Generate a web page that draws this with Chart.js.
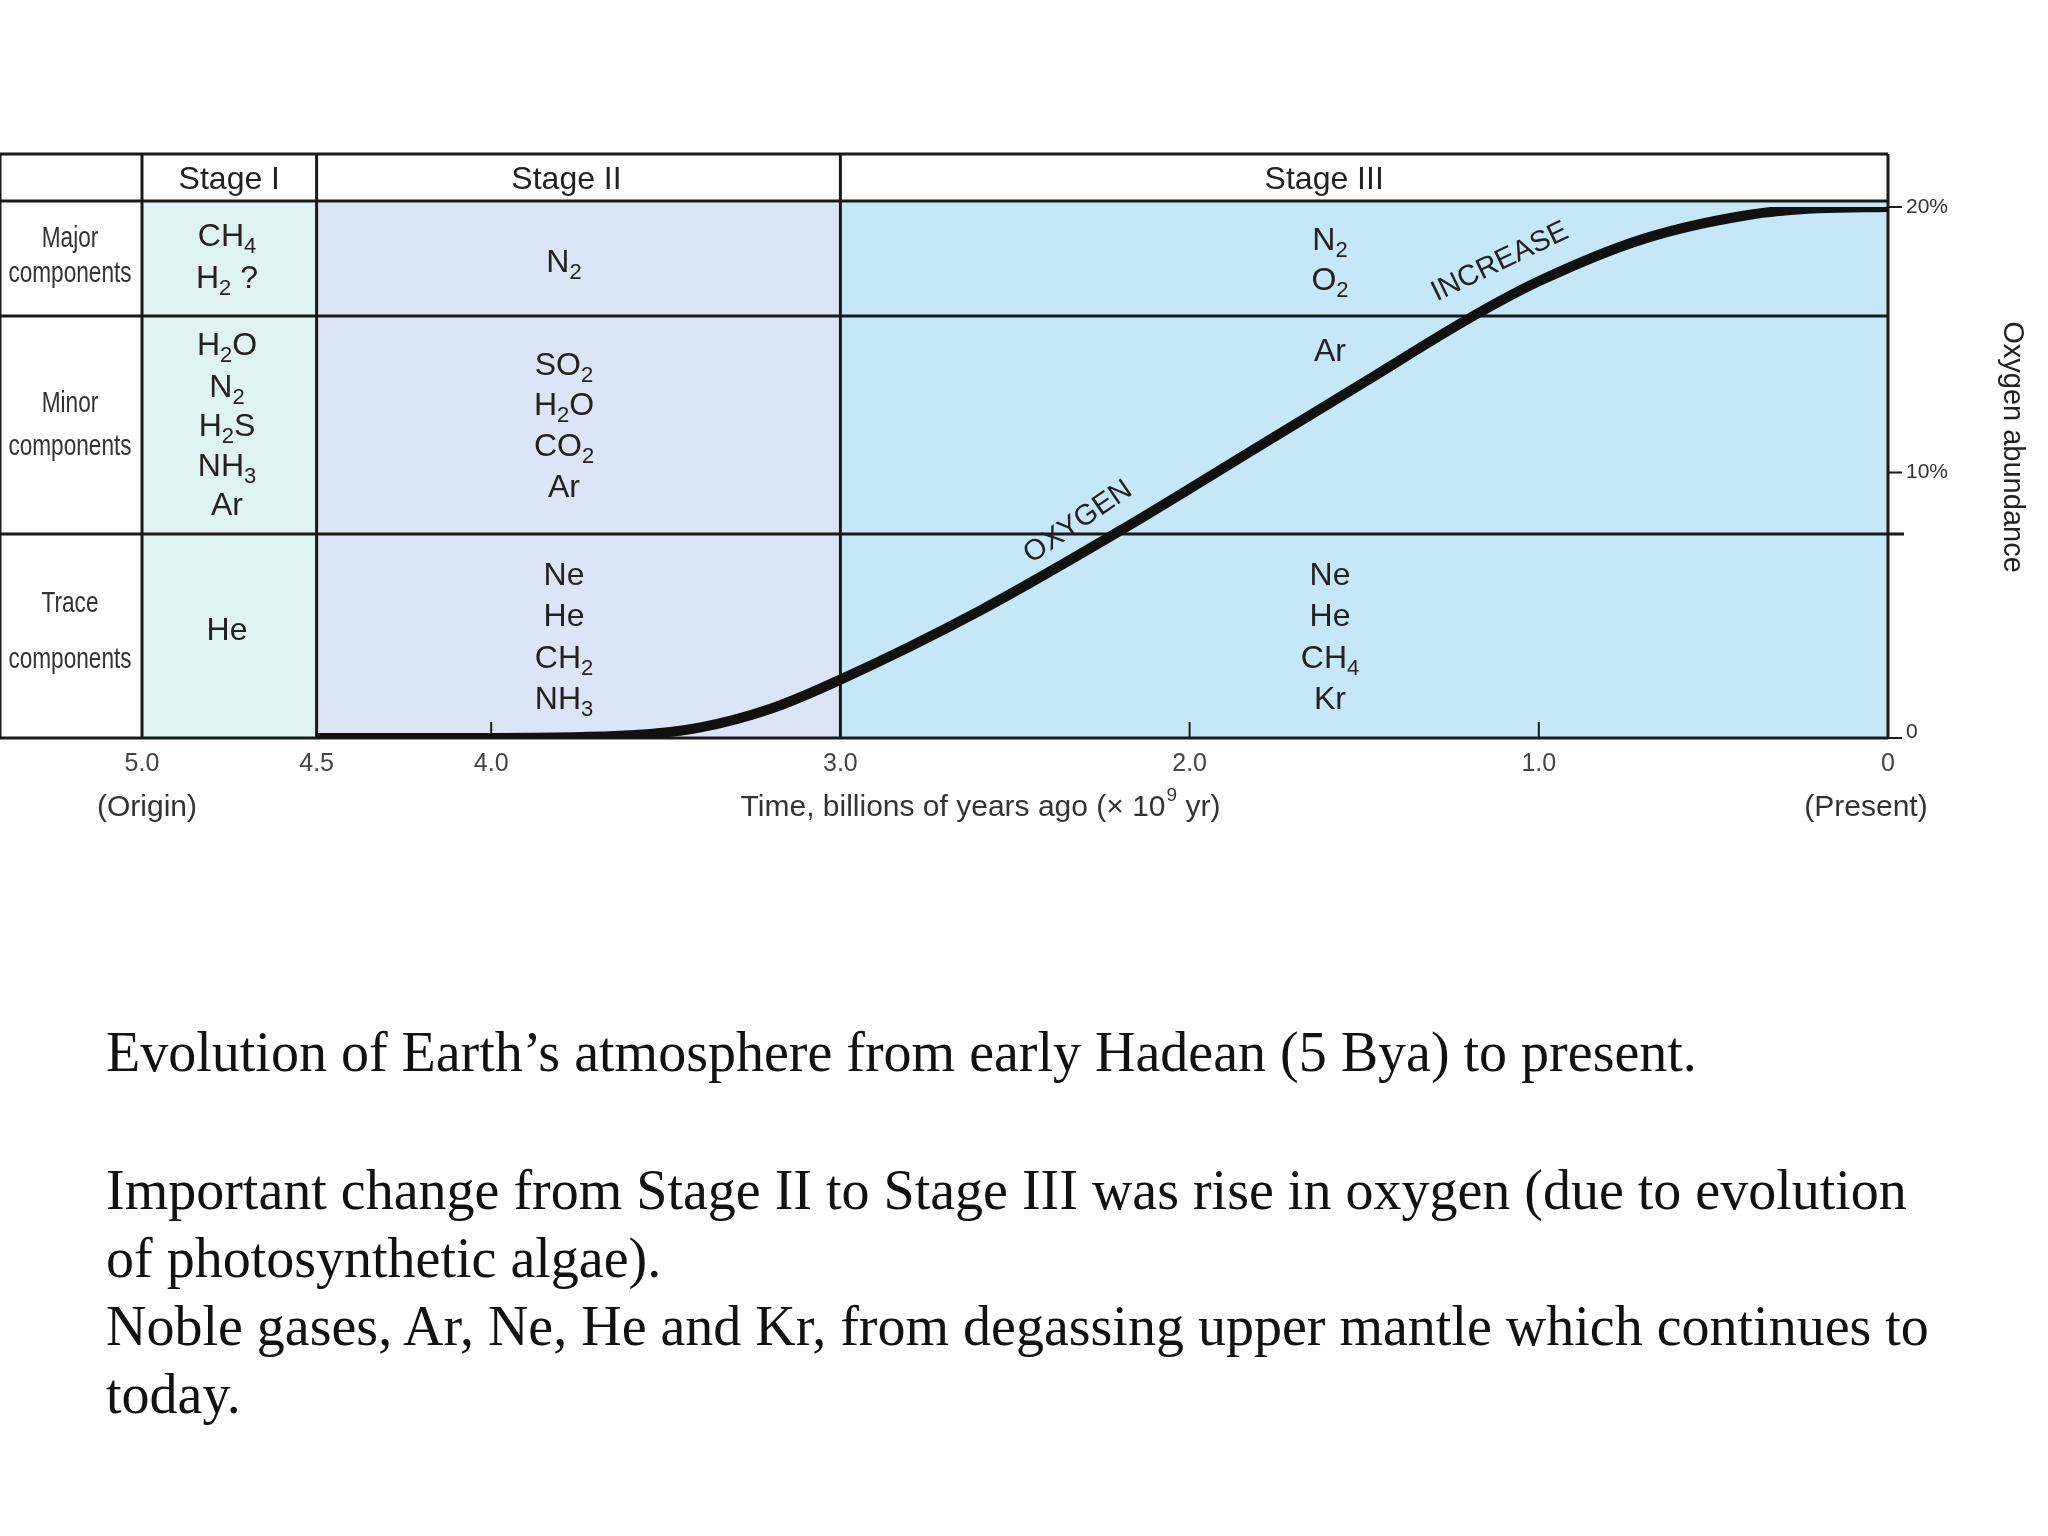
<!DOCTYPE html>
<html><head><meta charset="utf-8">
<script src="https://cdn.jsdelivr.net/npm/chart.js@4.4.1/dist/chart.umd.min.js"></script>
<style>
html,body{margin:0;padding:0;background:#fff;width:2048px;height:1536px;overflow:hidden}
#c{position:absolute;left:0;top:0}
.cap{position:absolute;left:106px;font-family:"Liberation Serif",serif;font-size:56px;color:#111;line-height:68px;margin:0}
</style></head><body>
<canvas id="c" width="2048" height="1536"></canvas>
<p class="cap" style="top:1018px">Evolution of Earth’s atmosphere from early Hadean (5 Bya) to present.</p>
<p class="cap" style="top:1156px;width:1940px">Important change from Stage II to Stage III was rise in oxygen (due to evolution<br>of photosynthetic algae).<br>Noble gases, Ar, Ne, He and Kr, from degassing upper mantle which continues to<br>today.</p>
<script>
const timeGya = [4.5,4.0,3.6,3.4,3.2,3.0,2.6,2.2,1.8,1.5,1.2,1.0,0.7,0.4,0.2,0];
const oxygenPct = [0,0,0.1,0.4,1.1,2.2,4.8,7.8,11,13.4,15.8,17.2,18.8,19.7,19.95,20];
const xTicks = [5.0,4.5,4.0,3.0,2.0,1.0,0];
const xTickLabels = ["5.0","4.5","4.0","3.0","2.0","1.0","0"];
const yTicks = [20,10,0];
const yTickLabels = ["20%","10%","0"];
const stages = [{name:"Stage I",from:5.0,to:4.5,color:"#dff2f4"},{name:"Stage II",from:4.5,to:3.0,color:"#dbe5f6"},{name:"Stage III",from:3.0,to:0,color:"#c6e7f8"}];
const rowLabels = [["Major","components"],["Minor","components"],["Trace","components"]];
const cells = [
 [["CH_4","H_2 ?"],["N_2"],["N_2","O_2"]],
 [["H_2O","N_2","H_2S","NH_3","Ar"],["SO_2","H_2O","CO_2","Ar"],["Ar"]],
 [["He"],["Ne","He","CH_2","NH_3"],["Ne","He","CH_4","Kr"]]
];
const T=154,H1=201,R1=316,R2=534;
function sub(ctx,s,x,y,size){
  const parts=[];let i=0;
  while(i<s.length){ if(s[i]==='_'){parts.push([s[i+1],true]);i+=2;} else {parts.push([s[i],false]);i++;} }
  const f=(b)=>(b?Math.round(size*0.68):size)+'px "Liberation Sans",Arial,sans-serif';
  let w=0;parts.forEach(p=>{ctx.font=f(p[1]);w+=ctx.measureText(p[0]).width;});
  let cx=x-w/2;ctx.textAlign='left';ctx.textBaseline='middle';
  parts.forEach(p=>{ctx.font=f(p[1]);ctx.fillText(p[0],cx,p[1]?y+size*0.3:y);cx+=ctx.measureText(p[0]).width;});
}
const deco={id:'deco',
 beforeDatasetsDraw(ch){
  const c=ch.ctx,xs=ch.scales.x,ys=ch.scales.y,B=ys.getPixelForValue(0),X0=xs.getPixelForValue(5),XE=xs.getPixelForValue(0);
  c.save();
  stages.forEach(s=>{c.fillStyle=s.color;c.fillRect(xs.getPixelForValue(s.from),H1,xs.getPixelForValue(s.to)-xs.getPixelForValue(s.from),B-H1);});
  c.strokeStyle='#1a1a1a';c.lineWidth=3;
  c.beginPath();
  [T,H1,R1,R2].forEach(y=>{c.moveTo(0,y);c.lineTo(XE,y);});
  c.moveTo(0,B);c.lineTo(XE,B);
  [X0,xs.getPixelForValue(4.5),xs.getPixelForValue(3.0),XE].forEach(x=>{c.moveTo(x,T);c.lineTo(x,B);});
  c.moveTo(0,T);c.lineTo(0,B);
  c.moveTo(XE,R2);c.lineTo(XE+16,R2);
  c.stroke();
  c.lineWidth=2;c.beginPath();
  [4.0,2.0,1.0].forEach(v=>{const x=xs.getPixelForValue(v);c.moveTo(x,B);c.lineTo(x,B-16);});
  yTicks.forEach(v=>{const y=ys.getPixelForValue(v);c.moveTo(XE,y);c.lineTo(XE+14,y);});
  c.stroke();
  c.fillStyle='#222';
  stages.forEach(s=>sub(c,s.name,(xs.getPixelForValue(s.from)+xs.getPixelForValue(s.to))/2+(s.name==='Stage III'?-40:(s.name==='Stage II'?-12:0)),180,32));
  const cellY=[[[237,279],[263],[241,281]],[[346,388,427,467,506],[366,406,447,488],[352]],[[631],[576,617,659,700],[576,617,659,700]]];
  const colX=[227,564,1330];
  cells.forEach((row,r)=>row.forEach((cell,k)=>cell.forEach((t,j)=>sub(c,t,colX[k],cellY[r][k][j],32))));
  c.fillStyle='#333';
  c.font='29px "Liberation Sans",sans-serif';c.textAlign='center';c.textBaseline='middle';
  const lblY=[[239,274],[404,447],[604,660]];
  rowLabels.forEach((l,r)=>l.forEach((t,j)=>{c.save();c.translate(70,lblY[r][j]);c.scale(0.78,1);c.fillText(t,0,0);c.restore();}));
  c.fillStyle='#444';
  c.font='25px "Liberation Sans",sans-serif';
  xTicks.forEach((v,i)=>c.fillText(xTickLabels[i],xs.getPixelForValue(v),764));
  c.font='30px "Liberation Sans",sans-serif';c.fillStyle='#333';
  c.fillText('(Origin)',147,808);c.fillText('(Present)',1866,808);
  const a='Time, billions of years ago (× 10',b=' yr)';
  c.textAlign='left';
  const wa=c.measureText(a).width,wb=c.measureText(b).width;c.font='19px "Liberation Sans",sans-serif';const ws=c.measureText('9').width;
  let sx=980-(wa+ws+wb)/2;
  c.font='30px "Liberation Sans",sans-serif';c.fillText(a,sx,808);
  c.font='19px "Liberation Sans",sans-serif';c.fillText('9',sx+wa+1,796);
  c.font='30px "Liberation Sans",sans-serif';c.fillText(b,sx+wa+ws+1,808);
  c.font='21px "Liberation Sans",sans-serif';
  yTicks.forEach((v,i)=>c.fillText(yTickLabels[i],XE+18,ys.getPixelForValue(v)+(v===0?-6:0)));
  c.save();c.translate(2012,447);c.rotate(Math.PI/2);c.textAlign='center';c.font='29px "Liberation Sans",sans-serif';c.fillStyle='#222';c.fillText('Oxygen abundance',0,0);c.restore();
  c.restore();
 },
 afterDatasetsDraw(ch){
  const c=ch.ctx;c.save();c.fillStyle='#222';c.font='29px "Liberation Sans",sans-serif';c.textAlign='center';c.textBaseline='middle';
  c.save();c.translate(1078,522);c.rotate(-0.6);c.fillText('OXYGEN',0,0);c.restore();
  c.save();c.translate(1500,262);c.rotate(-0.45);c.fillText('INCREASE',0,0);c.restore();
  c.restore();
 }};
new Chart(document.getElementById('c'),{type:'line',
 data:{datasets:[{data:timeGya.map((t,i)=>({x:t,y:oxygenPct[i]})),borderColor:'#111',borderWidth:10,pointRadius:0,cubicInterpolationMode:'monotone',fill:false}]},
 options:{responsive:false,devicePixelRatio:1,animation:false,
  layout:{padding:{left:142,right:160,top:207,bottom:798}},
  plugins:{legend:{display:false},tooltip:{enabled:false}},
  scales:{x:{type:'linear',reverse:true,min:0,max:5,display:false},y:{min:0,max:20,display:false}}},
 plugins:[deco]});
</script></body></html>
